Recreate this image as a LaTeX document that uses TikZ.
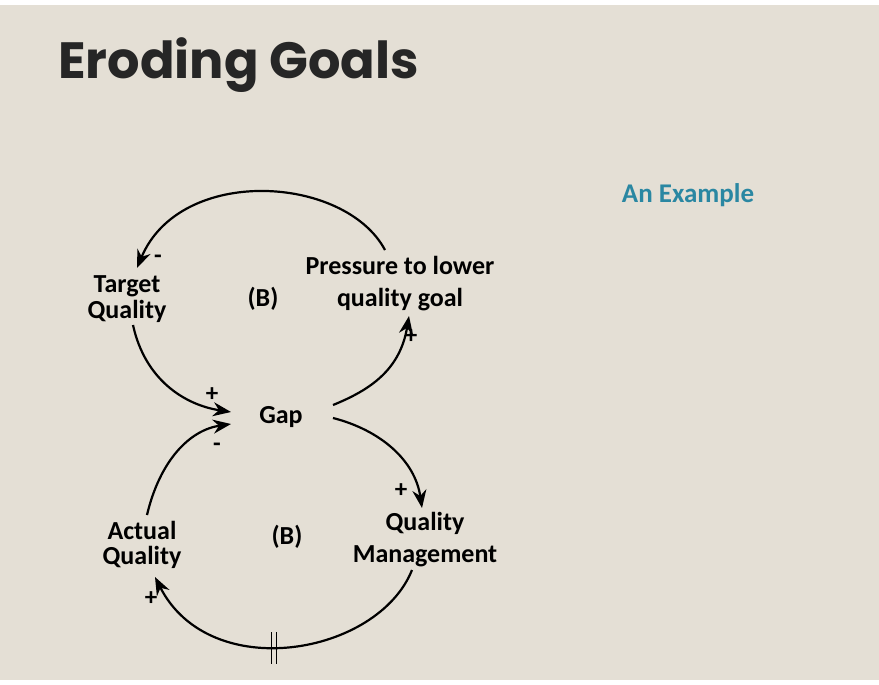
\documentclass[tikz,border=0pt]{standalone}
\usepackage{fontspec}
\setmainfont{Carlito}
\newfontfamily\titlefont{Poppins}
\usetikzlibrary{arrows.meta}
\definecolor{bg}{HTML}{E4DFD5}
\definecolor{teal}{HTML}{2A87A2}
\definecolor{tx}{HTML}{262626}
\begin{document}
\begin{tikzpicture}[x=1pt,y=-1pt,
  lbl/.style={font=\bfseries\fontsize{26}{32}\selectfont,text=black,align=center,inner sep=0},
  lbt/.style={font=\bfseries\fontsize{26}{25.5}\selectfont,text=black,align=center,inner sep=0},
  sgn/.style={font=\bfseries\fontsize{25}{25}\selectfont,inner sep=0},
  link/.style={line width=2.2pt,-{Stealth[length=18pt,width=14pt]}}]
\useasboundingbox (0,0) rectangle (879,685);
\fill[white] (0,0) rectangle (879,685);
\fill[bg] (0,5) rectangle (879,680);
\node[anchor=base west,inner sep=0,text=tx,font=\titlefont\bfseries\fontsize{51}{55}\selectfont] (title) at (58,78) {Eroding Goals};
\node[font=\bfseries\fontsize{27}{30}\selectfont,text=teal,inner sep=0] (ex) at (688,195) {An Example};
\node[lbt] (tq) at (127,299) {Target\\Quality};
\node[lbl] (b1) at (263,299) {(B)};
\node[lbl] (pr) at (400,284) {Pressure to lower\\quality goal};
\node[lbl] (gap) at (281,417) {Gap};
\node[lbt] (aq) at (142,545) {Actual\\Quality};
\node[lbl] (b2) at (287,537) {(B)};
\node[lbl] (qm) at (425,540) {Quality\\Management};
\draw[link] (385,250) .. controls (345,175) and (180,165) .. (137,268);
\draw[link] (133,325) .. controls (145,380) and (185,405) .. (231,412);
\draw[link] (147,515) .. controls (160,460) and (190,430) .. (231,424);
\draw[link] (333,405) .. controls (370,390) and (400,370) .. (409,316);
\draw[link] (333,418) .. controls (380,430) and (415,460) .. (422,508);
\draw[link] (412,570) .. controls (378,655) and (210,685) .. (155,577);
\coordinate (d) at (274,648);
\draw[line width=1.8pt] ([xshift=-2.5]d) ++(0,-16) -- ++(0,32);
\draw[line width=1.8pt] ([xshift=2.5]d) ++(0,-16) -- ++(0,32);
\node[sgn] (s1) at (158,259) {-};
\node[sgn] (s2) at (212,395) {+};
\node[sgn] (s3) at (217,447) {-};
\node[sgn] (s4) at (411,337) {+};
\node[sgn] (s5) at (401,491) {+};
\node[sgn] (s6) at (151,599) {+};
\end{tikzpicture}
\end{document}
